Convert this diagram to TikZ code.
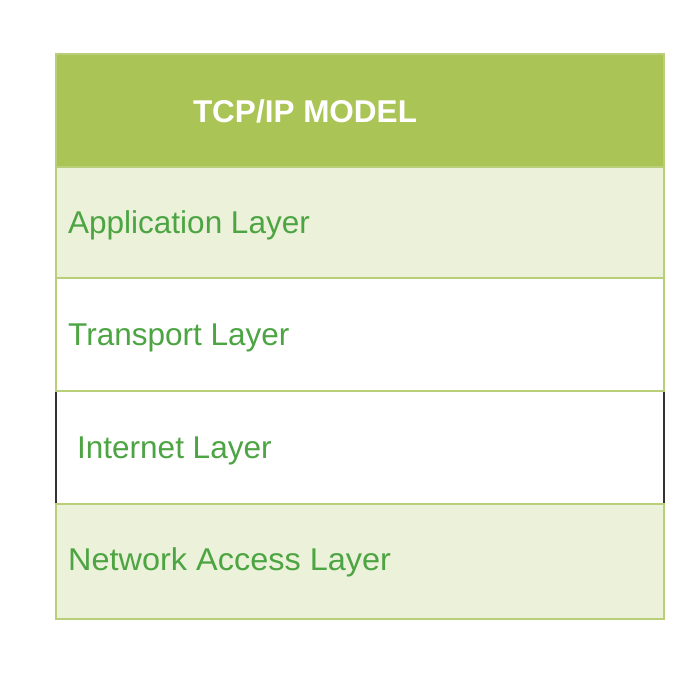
\documentclass[tikz,border=0pt]{standalone}
\usepackage{fontspec}
\setmainfont{Liberation Sans}
\usetikzlibrary{positioning}
\definecolor{hdrgreen}{RGB}{170,196,86}
\definecolor{rowgreen}{RGB}{236,241,218}
\definecolor{edgegreen}{RGB}{184,206,120}
\definecolor{txtgreen}{RGB}{76,164,66}
\tikzset{
	layer/.style={rectangle,draw=edgegreen,line width=1.6pt,outer sep=0pt,
		minimum width=608pt,minimum height=113pt,inner sep=0pt},
	lbl/.style={anchor=base west,inner sep=0pt,text=txtgreen,font=\fontsize{31.5}{36}\selectfont}
}
\begin{document}
\begin{tikzpicture}[x=1pt,y=1pt]
	\useasboundingbox (0,0) rectangle (695,-673);
	\node[layer,fill=hdrgreen] (hdr) at (360,-110.5) {};
	\node[layer,fill=rowgreen,minimum height=111pt,below=0pt of hdr] (app) {};
	\node[layer,fill=white,below=0pt of app] (trans) {};
	\node[layer,fill=white,below=0pt of trans] (inet) {};
	\node[layer,fill=rowgreen,minimum height=115pt,below=0pt of inet] (net) {};

	\node[anchor=base,inner sep=0pt,text=white,font=\bfseries\fontsize{31.5}{36}\selectfont]
		(title) at ([xshift=-55pt,yshift=-11.5pt]hdr.center) {TCP/IP MODEL};
	\node[lbl] (applbl) at ([xshift=12pt,yshift=-10.5pt]app.west) {Application Layer};
	\node[lbl] (translbl) at ([xshift=12pt,yshift=-10.5pt]trans.west) {Transport Layer};
	\node[lbl] (inetlbl) at ([xshift=21pt,yshift=-10.5pt]inet.west) {Internet Layer};
	\node[lbl,xscale=1.03] (netlbl) at ([xshift=12pt,yshift=-8.5pt]net.west) {Network Access Layer};

	% black sides of the internet row
	\draw[line width=1.2pt,black!80] ([yshift=-1pt]inet.north west) -- ([yshift=1pt]inet.south west);
	\draw[line width=1.2pt,black!80] ([yshift=-1pt]inet.north east) -- ([yshift=1pt]inet.south east);
\end{tikzpicture}
\end{document}
